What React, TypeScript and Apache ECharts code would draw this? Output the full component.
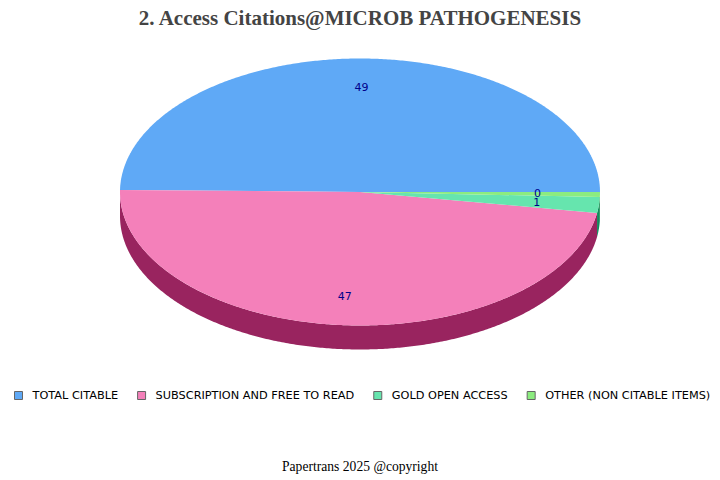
import React, { useEffect, useRef } from "react";
import * as echarts from "echarts";

const titleText = "2. Access Citations@MICROB PATHOGENESIS";
const footerText = "Papertrans 2025 @copyright";
const categories = ["TOTAL CITABLE", "SUBSCRIPTION AND FREE TO READ", "GOLD OPEN ACCESS", "OTHER (NON CITABLE ITEMS)"];
const shares = [49.75, 47.75, 1.9, 0.6];
const topColors = ["#5FA9F6", "#F480BA", "#66E5AE", "#8CEC7F"];
const sideColors = ["#2A6FB5", "#99245F", "#128A5C", "#3C9A32"];

const CX = 360;
const CY = 192;
const RX = 240;
const RY = 133.5;
const DEPTH = 24;
const total = shares.reduce((a, b) => a + b, 0);

// Angles run counter-clockwise from 3 o'clock, as in the picture.
const startAngle = (i: number) => (shares.slice(0, i).reduce((a, b) => a + b, 0) / total) * 360;
const endAngle = (i: number) => (shares.slice(0, i + 1).reduce((a, b) => a + b, 0) / total) * 360;
const rad = (d: number) => (d * Math.PI) / 180;
const rim = (deg: number, dy = 0): number[] => [
  CX + RX * Math.cos(rad(deg)),
  CY - RY * Math.sin(rad(deg)) + dy,
];
const arc = (from: number, to: number, dy = 0): number[][] => {
  const n = Math.max(2, Math.ceil((to - from) / 0.5));
  const pts: number[][] = [];
  for (let k = 0; k <= n; k++) pts.push(rim(from + ((to - from) * k) / n, dy));
  return pts;
};

const sliceRenderer = (i: number) => () => {
  const a0 = startAngle(i);
  const a1 = endAngle(i);
  const children: any[] = [];
  // Only the front half of the rim (180°–360°) shows a wall.
  const s0 = Math.max(a0, 180);
  if (a1 > s0) {
    children.push({
      type: "polygon",
      shape: { points: [...arc(s0, a1), ...arc(s0, a1, DEPTH).reverse()] },
      style: { fill: sideColors[i] },
    });
  }
  children.push({
    type: "polygon",
    shape: { points: [[CX, CY], ...arc(a0, a1)] },
    style: { fill: topColors[i] },
  });
  const mid = rad((a0 + a1) / 2);
  children.push({
    type: "text",
    z2: 100,
    style: {
      x: CX + RX * 0.74 * Math.cos(mid),
      y: CY - RY * 0.785 * Math.sin(mid),
      text: String(Math.floor(shares[i])),
      fill: "#00008B",
      font: '11px "DejaVu Sans"',
      align: "center",
      verticalAlign: "middle",
    },
  });
  return { type: "group", children };
};

export default function App() {
  const ref = useRef<HTMLDivElement>(null);
  useEffect(() => {
    document.body.style.margin = "0";
    const chart = echarts.init(ref.current!, null, { renderer: "svg" });
    chart.setOption({
      animation: false,
      backgroundColor: "#ffffff",
      color: topColors,
      title: [
        {
          text: titleText,
          left: "center",
          top: 2,
          textStyle: { fontFamily: "Liberation Serif", fontSize: 21, fontWeight: "bold", color: "#444444" },
        },
        {
          text: footerText,
          left: "center",
          top: 454,
          textStyle: { fontFamily: "Liberation Serif", fontSize: 13.6, fontWeight: "normal", color: "#000000" },
        },
      ],
      legend: {
        data: categories,
        left: 9,
        top: 385,
        icon: "rect",
        itemWidth: 8,
        itemHeight: 8,
        itemGap: 19,
        itemStyle: { borderColor: "#666666", borderWidth: 1 },
        textStyle: { fontFamily: "DejaVu Sans", fontSize: 11.3, color: "#000000", padding: [0, 0, 0, 5] },
      },
      series: categories.map((name, i) => ({
        type: "custom",
        name,
        coordinateSystem: "none",
        data: [shares[i]],
        itemStyle: { color: topColors[i] },
        renderItem: sliceRenderer(i),
      })),
    });
    return () => chart.dispose();
  }, []);
  return <div ref={ref} style={{ width: 720, height: 480 }} />;
}
